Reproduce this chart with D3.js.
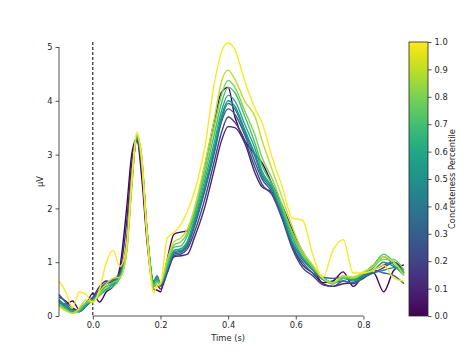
<!DOCTYPE html>
<html><head><meta charset="utf-8">
<script src="https://cdn.jsdelivr.net/npm/d3@7"></script>
<style>body{margin:0;background:#fff}svg{display:block}text{font-family:"DejaVu Sans",sans-serif}</style>
</head><body><svg id="c" width="474" height="355"></svg>
<script>
const times=[-0.1,-0.08,-0.06,-0.04,-0.02,0,0.02,0.04,0.06,0.08,
 0.10,0.115,0.13,0.145,0.16,0.18,0.19,0.20,
 0.22,0.24,0.26,0.28,0.30,0.33,0.36,0.38,0.40,0.42,
 0.45,0.48,0.50,0.53,0.56,0.59,0.62,0.65,0.68,0.71,
 0.74,0.77,0.80,0.83,0.86,0.89,0.92];
const percentiles=[0,0.1,0.2,0.3,0.4,0.5,0.6,0.7,0.8,0.9,1.0];
const p00=[0.25,0.22,0.28,0.12,0.22,0.42,0.26,0.45,0.55,0.90,
 2.00,3.00,3.30,2.55,1.40,0.50,0.48,0.45,
 1.05,1.52,1.56,1.58,1.90,2.75,3.65,4.15,4.25,3.70,
 3.25,3.00,2.85,2.45,2.05,1.60,1.20,0.90,0.62,0.65,
 0.82,0.55,0.75,0.80,0.45,0.85,0.95];
const p01=[0.35,0.28,0.15,0.10,0.25,0.35,0.55,0.65,0.60,0.85,
 1.75,2.85,3.28,2.70,1.50,0.55,0.58,0.50,
 0.80,1.10,1.12,1.15,1.45,2.00,2.75,3.25,3.52,3.50,
 3.20,2.65,2.40,2.30,1.85,1.30,0.95,0.80,0.60,0.55,
 0.60,0.62,0.70,0.85,0.95,1.00,0.85];
const p02=[0.30,0.15,0.12,0.10,0.22,0.30,0.48,0.60,0.65,0.80,
 1.40,2.60,3.25,2.75,1.55,0.60,0.65,0.55,
 0.82,1.12,1.15,1.25,1.55,2.15,2.90,3.40,3.70,3.60,
 3.25,2.75,2.45,2.25,1.80,1.25,0.90,0.75,0.58,0.55,
 0.65,0.60,0.72,0.80,0.90,1.00,0.80];
const p03=[0.40,0.25,0.10,0.08,0.18,0.32,0.50,0.62,0.68,0.78,
 1.35,2.55,3.30,2.80,1.55,0.62,0.70,0.58,
 0.85,1.15,1.18,1.30,1.65,2.30,3.05,3.60,3.85,3.75,
 3.35,2.85,2.55,2.30,1.85,1.30,1.00,0.80,0.72,0.70,
 0.72,0.68,0.75,0.85,0.80,0.75,0.60];
const p04=[0.28,0.18,0.08,0.10,0.22,0.32,0.45,0.55,0.62,0.75,
 1.30,2.50,3.30,2.85,1.60,0.65,0.75,0.60,
 0.88,1.18,1.20,1.35,1.70,2.35,3.10,3.65,3.95,3.85,
 3.40,2.95,2.60,2.35,1.88,1.35,1.05,0.85,0.68,0.62,
 0.65,0.62,0.72,0.80,0.85,0.90,0.78];
const p05=[0.30,0.20,0.10,0.08,0.18,0.30,0.45,0.55,0.60,0.75,
 1.30,2.50,3.32,2.85,1.60,0.62,0.72,0.58,
 0.88,1.20,1.22,1.38,1.75,2.40,3.15,3.70,4.00,3.90,
 3.45,3.00,2.65,2.38,1.90,1.38,1.08,0.88,0.68,0.60,
 0.70,0.65,0.75,0.85,1.00,0.92,0.82];
const p06=[0.25,0.15,0.08,0.12,0.25,0.30,0.40,0.50,0.58,0.72,
 1.25,2.45,3.32,2.88,1.62,0.60,0.70,0.60,
 0.90,1.22,1.25,1.40,1.80,2.50,3.25,3.80,4.10,4.00,
 3.55,3.10,2.70,2.40,1.95,1.45,1.10,0.90,0.72,0.62,
 0.70,0.68,0.78,0.90,1.10,0.95,0.75];
const p07=[0.22,0.12,0.06,0.10,0.22,0.28,0.38,0.48,0.55,0.70,
 1.20,2.45,3.35,2.90,1.60,0.58,0.65,0.62,
 0.95,1.28,1.30,1.50,1.88,2.60,3.40,3.95,4.25,4.15,
 3.70,3.20,2.80,2.45,2.00,1.50,1.15,0.92,0.70,0.62,
 0.70,0.72,0.80,0.95,1.15,1.00,0.80];
const p08=[0.20,0.12,0.05,0.12,0.25,0.28,0.40,0.55,0.62,0.70,
 1.20,2.40,3.35,2.92,1.60,0.55,0.62,0.62,
 1.00,1.32,1.38,1.55,1.95,2.70,3.55,4.10,4.38,4.25,
 3.80,3.35,2.95,2.55,2.05,1.55,1.15,0.90,0.70,0.60,
 0.72,0.70,0.80,0.95,1.05,1.05,0.85];
const p09=[0.18,0.10,0.05,0.15,0.30,0.25,0.45,0.60,0.70,0.72,
 1.18,2.40,3.38,2.95,1.58,0.50,0.55,0.60,
 1.05,1.38,1.45,1.62,2.00,2.80,3.70,4.35,4.57,4.40,
 3.98,3.70,3.27,2.72,2.20,1.65,1.20,0.95,0.70,0.62,
 0.75,0.72,0.82,0.92,1.10,1.00,0.75];
const p10=[0.65,0.45,0.15,0.45,0.40,0.25,0.50,1.00,1.22,0.92,
 1.30,2.55,3.42,2.85,1.50,0.42,0.58,0.60,
 1.45,1.55,1.70,1.95,2.30,3.10,4.35,4.90,5.08,4.95,
 4.35,3.85,3.60,2.95,2.40,1.82,1.78,1.15,0.72,1.22,
 1.42,0.80,0.80,0.85,0.95,0.70,0.65];
const seriesValues=[p00,p01,p02,p03,p04,p05,p06,p07,p08,p09,p10];
const xTicks=[0,0.2,0.4,0.6,0.8];
const yTicks=[0,1,2,3,4,5];
const cbTicks=[0,0.1,0.2,0.3,0.4,0.5,0.6,0.7,0.8,0.9,1.0];

const svg=d3.select("#c");
const x=d3.scaleLinear().domain([-0.1,0.92]).range([59,404]);
const y=d3.scaleLinear().domain([0,5]).range([316,47]);
const ink="#262626";
const fs=8.3;

svg.append("line").attr("x1",x(0)).attr("x2",x(0)).attr("y1",42).attr("y2",316)
 .attr("stroke","#000").attr("stroke-width",1).attr("stroke-dasharray","3,2");

const line=d3.line().x((d,i)=>x(times[i])).y(d=>y(d)).curve(d3.curveMonotoneX);
const g=svg.append("g");
seriesValues.forEach((vals,k)=>{
  g.append("path").attr("d",line(vals)).attr("fill","none")
   .attr("stroke",d3.interpolateViridis(percentiles[k])).attr("stroke-width",1.4);
});

const ax=svg.append("g").attr("transform","translate(0,316)")
 .call(d3.axisBottom(x).tickValues(xTicks).tickFormat(d3.format(".1f")).tickSize(3.5).tickPadding(3));
ax.select(".domain").remove();
const ay=svg.append("g").attr("transform","translate(59,0)")
 .call(d3.axisLeft(y).tickValues(yTicks).tickFormat(d3.format("d")).tickSize(3.5).tickPadding(3));
ay.select(".domain").remove();
[ax,ay].forEach(a=>{a.selectAll("text").attr("font-size",fs).attr("fill",ink).attr("font-family","DejaVu Sans");
 a.selectAll("line").attr("stroke",ink).attr("stroke-width",0.8);});
svg.append("line").attr("x1",x(0)).attr("x2",x(0.8)).attr("y1",316).attr("y2",316).attr("stroke",ink).attr("stroke-width",0.8);
svg.append("line").attr("x1",59).attr("x2",59).attr("y1",y(0)).attr("y2",y(5)).attr("stroke",ink).attr("stroke-width",0.8);

svg.append("text").attr("x",x(0.4)).attr("y",341).attr("text-anchor","middle").attr("font-size",fs).attr("fill",ink).text("Time (s)");
svg.append("text").attr("transform","translate(43,"+((y(0)+y(5))/2)+") rotate(-90)").attr("text-anchor","middle").attr("font-size",fs).attr("fill",ink).text("μV");

const cb=d3.scaleLinear().domain([0,1]).range([316,42]);
const defs=svg.append("defs");
const grad=defs.append("linearGradient").attr("id","vir").attr("x1",0).attr("x2",0).attr("y1",1).attr("y2",0);
d3.range(0,1.0001,0.05).forEach(t=>grad.append("stop").attr("offset",t).attr("stop-color",d3.interpolateViridis(t)));
svg.append("rect").attr("x",409).attr("y",42).attr("width",19).attr("height",274).attr("fill","url(#vir)")
 .attr("stroke",ink).attr("stroke-width",0.8);
const ac=svg.append("g").attr("transform","translate(428,0)")
 .call(d3.axisRight(cb).tickValues(cbTicks).tickFormat(d3.format(".1f")).tickSize(3.5).tickPadding(3));
ac.select(".domain").remove();
ac.selectAll("text").attr("font-size",fs).attr("fill",ink).attr("font-family","DejaVu Sans");
ac.selectAll("line").attr("stroke",ink).attr("stroke-width",0.8);
svg.append("text").attr("transform","translate(455,"+((316+42)/2)+") rotate(-90)").attr("text-anchor","middle")
 .attr("font-size",fs).attr("fill",ink).text("Concreteness Percentile");
</script></body></html>
